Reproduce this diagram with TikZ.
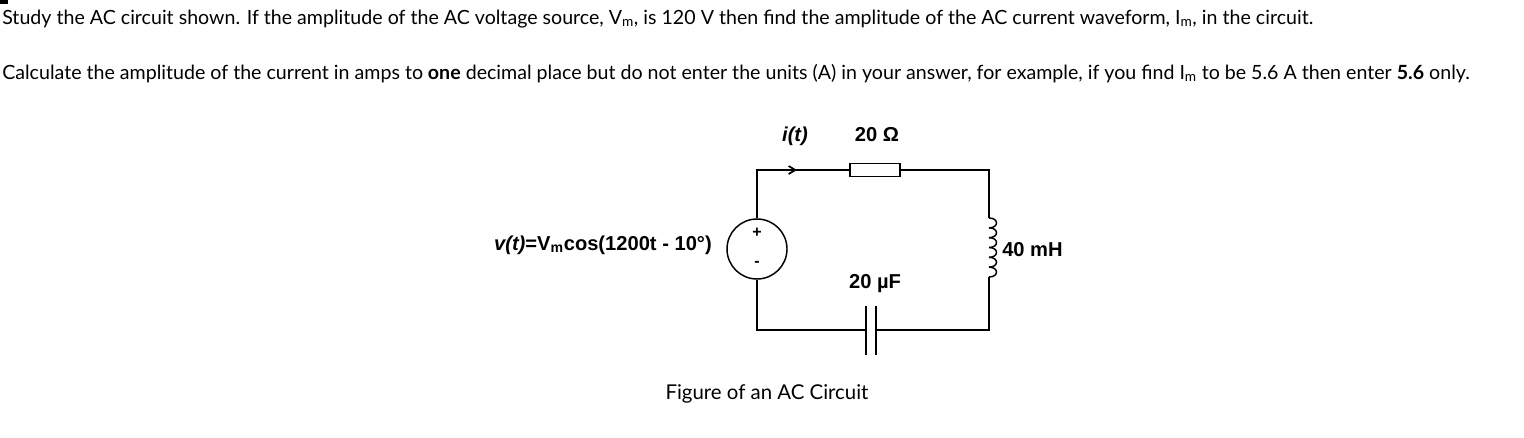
\documentclass[tikz,border=0pt]{standalone}
\usepackage{fontspec}
\setmainfont{Lato}
\newfontfamily\arial{Liberation Sans}
\usetikzlibrary{arrows.meta}
\begin{document}
\begin{tikzpicture}[x=0.75pt,y=-0.75pt,
  wire/.style={line width=1.3pt},
  txt/.style={inner sep=0,font=\fontsize{14.7}{16}\selectfont},
  lab/.style={inner sep=0,font=\arial\bfseries\fontsize{15.1}{17}\selectfont}]
\useasboundingbox (0,0) rectangle (1524,437);
\fill (0,0) rectangle (8,4);
\node[txt,anchor=base west] (q1) at (2,24) {Study the AC circuit shown. If the amplitude of the AC voltage source, V\textsubscript{m}, is 120 V then find the amplitude of the AC current waveform, I\textsubscript{m}, in the circuit.};
\node[txt,anchor=base west] (q2) at (2,79) {Calculate the amplitude of the current in amps to \textbf{one} decimal place but do not enter the units (A) in your answer, for example, if you find I\textsubscript{m} to be 5.6 A then enter \textbf{5.6} only.};
\coordinate (tl) at (757,170); \coordinate (tr) at (989,170);
\coordinate (bl) at (757,330); \coordinate (br) at (989,330);
\node[draw,circle,line width=1.1pt,minimum size=60pt*0.75,inner sep=0] (src) at (757,249) {};
\node[font=\arial\bfseries\fontsize{12}{12}\selectfont,inner sep=0] (pl) at (757,233) {+};
\node[font=\arial\bfseries\fontsize{12}{12}\selectfont,inner sep=0] (mi) at (757,264) {-};
\node[draw,line width=1.1pt,minimum width=50*0.75pt,minimum height=13*0.75pt,inner sep=0] (res) at (875,170) {};
\coordinate (ind1) at (989,218); \coordinate (ind2) at (989,277);
\coordinate (c1) at (871,330);
\coordinate (ar) at (797,170);
\draw[wire] (src.north) -- (tl) -- (res.west);
\draw[wire,-{Straight Barb[length=5pt,width=6pt]}] (tl) -- (ar);
\draw[wire] (res.east) -- (tr) -- (ind1);
\foreach \k in {0,...,5}{
  \draw[line width=1.1pt] (989,{218+\k*9.83}) .. controls (999,{218+\k*9.83}) and (999,{218+(\k+1)*9.83}) .. (989,{218+(\k+1)*9.83});
}
\draw[wire] (ind2) -- (br) -- ([xshift=5*0.75pt]c1);
\draw[wire] (src.south) -- (bl) -- ([xshift=-5*0.75pt]c1);
\draw[wire] ([xshift=-5*0.75pt,yshift=24*0.75pt]c1) -- ([xshift=-5*0.75pt,yshift=-25*0.75pt]c1);
\draw[wire] ([xshift=5*0.75pt,yshift=24*0.75pt]c1) -- ([xshift=5*0.75pt,yshift=-25*0.75pt]c1);
\node[lab,anchor=base east] (vt) at (712,250) {\textit{v(t)}=V\textsubscript{m}cos(1200t - 10°)};
\node[lab,anchor=base west] (L) at (1002,256) {40 mH};
\node[lab,anchor=base] (C) at (875,288) {20 µF};
\node[lab,anchor=base] (R) at (877,141) {20 Ω};
\node[lab,anchor=base] (it) at (795,141) {\textit{i(t)}};
\node[txt,anchor=base] (cap) at (767,399) {\fontsize{15.3}{17}\selectfont Figure of an AC Circuit};
\end{tikzpicture}
\end{document}
